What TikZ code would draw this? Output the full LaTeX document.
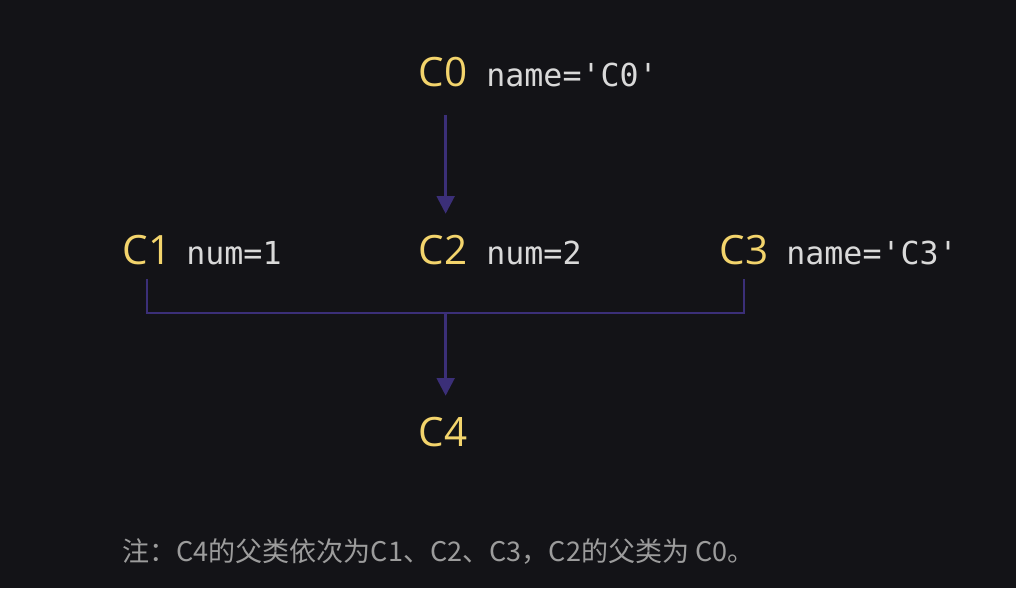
\documentclass[tikz,border=0pt]{standalone}
\usepackage{fontspec}
\setsansfont{Open Sans}
\setmonofont{DejaVu Sans Mono}
\newfontfamily\cjk{Noto Sans CJK SC}
\usetikzlibrary{positioning, arrows.meta, calc}

\definecolor{bgcol}{HTML}{131317}
\definecolor{clsyellow}{HTML}{F3D46C}
\definecolor{attrgray}{HTML}{D9D9D9}
\definecolor{notegray}{HTML}{9C9C9C}
\definecolor{linkpurple}{HTML}{3B2F78}

\begin{document}
\begin{tikzpicture}[
    x=0.02cm, y=-0.02cm,
    clsnode/.style={text=clsyellow, font=\sffamily\fontsize{23}{25}\selectfont, inner sep=2pt},
    attrnode/.style={text=attrgray, font=\ttfamily\fontsize{18}{20}\selectfont, anchor=base west, inner sep=0pt},
    myarrow/.style={draw=linkpurple, line width=1.6pt, -{Triangle[length=10pt,width=10pt]}},
    myline/.style={draw=linkpurple, line width=1.6pt}
]
    \fill[bgcol] (0,0) rectangle (1016,588);

    \node[clsnode] (c0) at (443,72) {C0};
    \node[clsnode] (c1) at (147,250) {C1};
    \node[clsnode] (c2) at (443,250) {C2};
    \node[clsnode] (c3) at (744,250) {C3};
    \node[clsnode] (c4) at (443,432) {C4};

    \node[attrnode] (a0) at ($(c0.base)+(43,0)$) {name='C0'};
    \node[attrnode] (a1) at ($(c1.base)+(39,0)$) {num=1};
    \node[attrnode] (a2) at ($(c2.base)+(43,0)$) {num=2};
    \node[attrnode] (a3) at ($(c3.base)+(42,0)$) {name='C3'};

    \coordinate (join) at (c2 |- 0,313);

    \draw[myarrow] ([xshift=1.5pt,yshift=-14pt]c0.south) -- ([xshift=1.5pt,yshift=10pt]c2.north);
    \draw[myline] ([yshift=-6pt]c1.south) |- (join) -| ([yshift=-6pt]c3.south);
    \draw[myarrow] ([xshift=1.5pt,yshift=-26pt]c2.south) -- ([xshift=1.5pt,yshift=10pt]c4.north);

    \node[text=notegray, font=\cjk\fontsize{15.4}{17}\selectfont, anchor=west] (note) at (116,552)
        {注：C4的父类依次为C1、C2、C3，C2的父类为 C0。};
\end{tikzpicture}
\end{document}
